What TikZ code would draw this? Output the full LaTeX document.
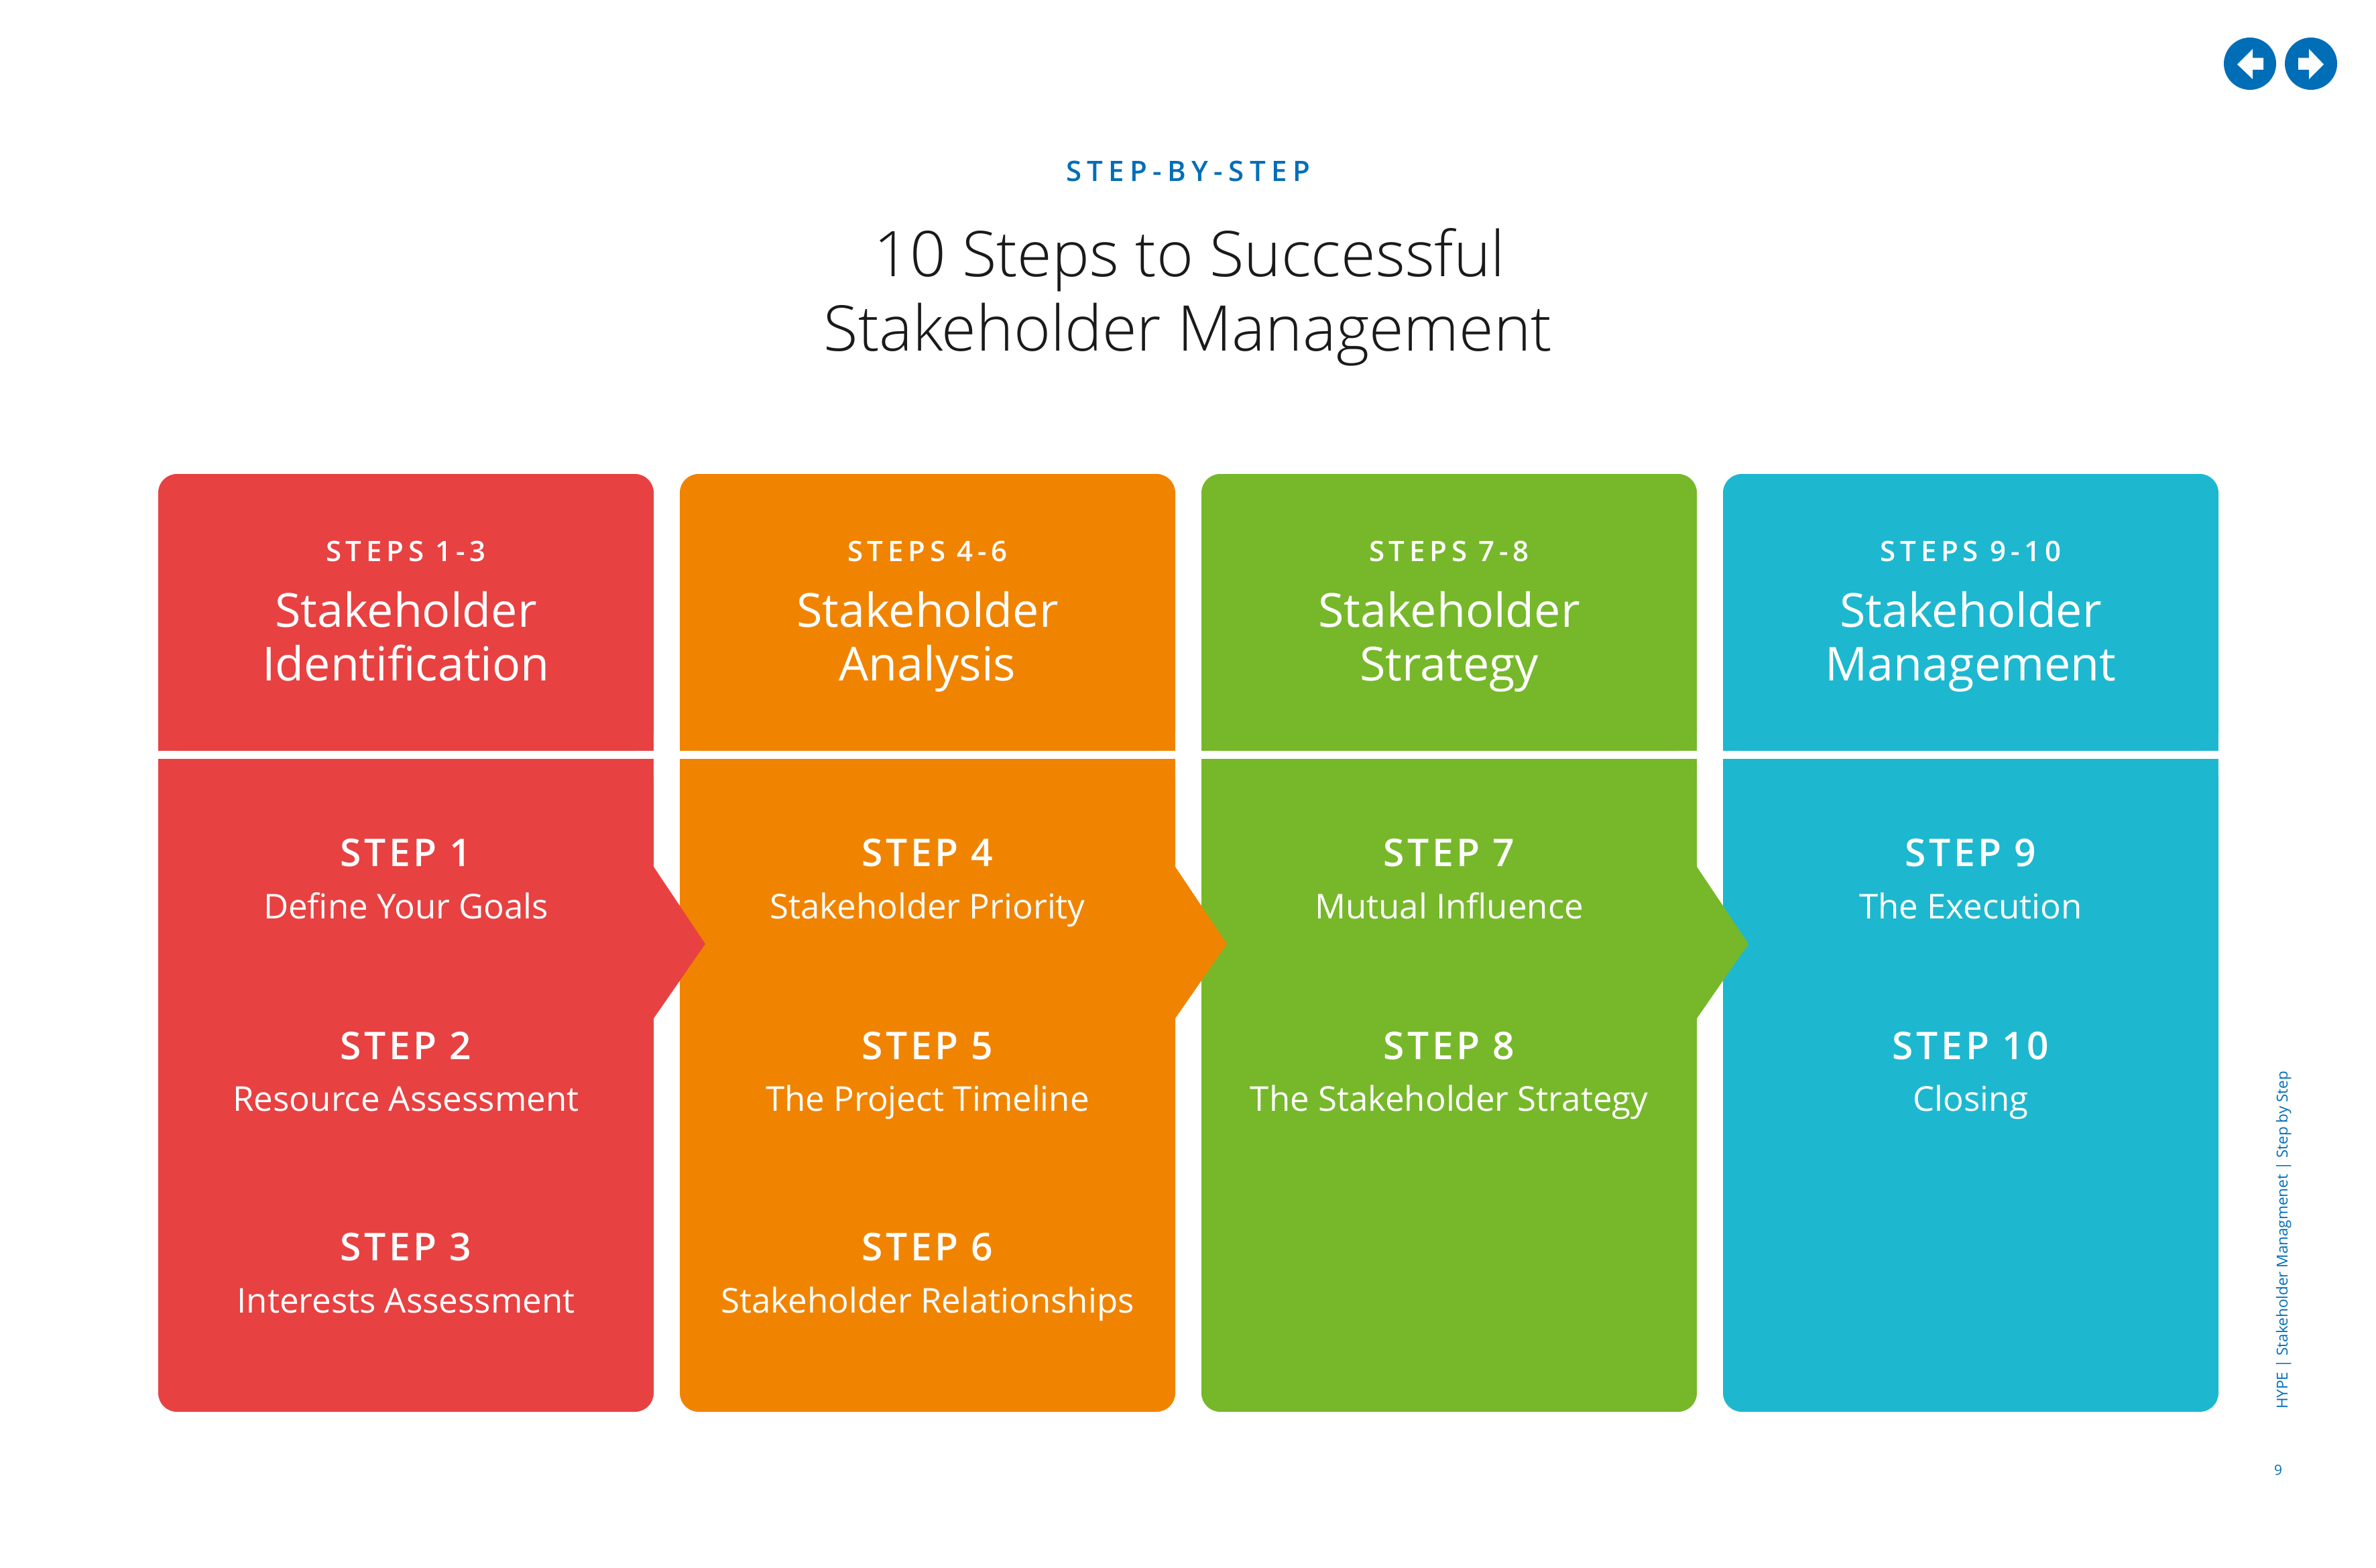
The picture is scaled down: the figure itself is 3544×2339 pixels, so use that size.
\documentclass[tikz,border=0pt]{standalone}
\usepackage{fontspec}
\setmainfont{Open Sans}
\IfFontExistsTF{Open Sans Light}
  {\def\LightName{Open Sans Light}}
  {\def\LightName{Open Sans}}
\IfFontExistsTF{Open Sans Semibold}
  {\def\SemiName{Open Sans Semibold}\def\SemiSel{\mdseries}}
  {\IfFontExistsTF{Open Sans SemiBold}
    {\def\SemiName{Open Sans SemiBold}\def\SemiSel{\mdseries}}
    {\def\SemiName{Open Sans}\def\SemiSel{\bfseries}}}
\newfontfamily\lightfont{\LightName}
\newfontfamily\kickerfont[LetterSpace=20]{\SemiName}
\newfontfamily\rangefont[LetterSpace=16]{\SemiName}
\newfontfamily\stepfont[LetterSpace=8]{\SemiName}
\definecolor{cred}{HTML}{E84142}
\definecolor{corange}{HTML}{F08400}
\definecolor{cgreen}{HTML}{76B82A}
\definecolor{ccyan}{HTML}{1DB8CF}
\definecolor{cblue}{HTML}{006EB7}
\definecolor{ctitle}{HTML}{1A1A1A}
\tikzset{
  txt/.style={inner sep=0pt, anchor=base, text=white},
  kicker/.style={txt, text=cblue, font=\kickerfont\SemiSel\fontsize{42}{50}\selectfont},
  bigtitle/.style={txt, text=ctitle, font=\lightfont\fontsize{94}{110}\selectfont},
  rangetxt/.style={txt, font=\rangefont\SemiSel\fontsize{42}{50}\selectfont},
  headtxt/.style={txt, font=\fontsize{70}{80}\selectfont},
  steptxt/.style={txt, font=\stepfont\SemiSel\fontsize{57}{66}\selectfont},
  desctxt/.style={txt, font=\fontsize{51}{60}\selectfont},
  foottxt/.style={inner sep=0pt, text=cblue, font=\fontsize{22.5}{27}\selectfont},
}
\begin{document}
\begin{tikzpicture}[x=1pt,y=-1pt]
\fill[white] (0,0) rectangle (3544,2339);
\useasboundingbox (0,0) rectangle (3544,2339);

% columns
\foreach \i/\c in {0/cred,1/corange,2/cgreen,3/ccyan} {
  \pgfmathsetmacro\xa{236+778*\i}
  \pgfmathsetmacro\xb{\xa+739}
  \fill[\c, rounded corners=28pt] (\xa,707) rectangle (\xb,1120);
  \fill[\c] (\xa,1060) rectangle (\xb,1120);
  \fill[\c, rounded corners=28pt] (\xa,1132) rectangle (\xb,2106);
  \fill[\c] (\xa,1132) rectangle (\xb,1190);
}
% chevrons
\foreach \i/\c in {0/cred,1/corange,2/cgreen} {
  \pgfmathsetmacro\xb{236+778*\i+739}
  \fill[\c] ({\xb-2},1290) -- ({\xb+77},1408) -- ({\xb-2},1522) -- cycle;
}

% heading
\node[kicker] (kick) at (1772,270) {STEP-BY-STEP};
\node[bigtitle] (title1) at (1774,412) {10 Steps to Successful};
\node[bigtitle] (title2) at (1772,523) {Stakeholder Management};

% column 1
\node[rangetxt] (r1) at (605.5,837) {STEPS 1-3};
\node[headtxt] (h1a) at (605.5,935) {Stakeholder};
\node[headtxt] (h1b) at (605.5,1015) {Identification};
\node[steptxt] (s1) at (605.5,1292) {STEP 1};
\node[desctxt] (d1) at (605.5,1370) {Define Your Goals};
\node[steptxt] (s2) at (605.5,1580) {STEP 2};
\node[desctxt] (d2) at (605.5,1657) {Resource Assessment};
\node[steptxt] (s3) at (605.5,1880) {STEP 3};
\node[desctxt] (d3) at (605.5,1958) {Interests Assessment};

% column 2
\node[rangetxt] (r2) at (1383.5,837) {STEPS 4-6};
\node[headtxt] (h2a) at (1383.5,935) {Stakeholder};
\node[headtxt] (h2b) at (1383.5,1015) {Analysis};
\node[steptxt] (s4) at (1383.5,1292) {STEP 4};
\node[desctxt] (d4) at (1383.5,1370) {Stakeholder Priority};
\node[steptxt] (s5) at (1383.5,1580) {STEP 5};
\node[desctxt] (d5) at (1383.5,1657) {The Project Timeline};
\node[steptxt] (s6) at (1383.5,1880) {STEP 6};
\node[desctxt] (d6) at (1383.5,1958) {Stakeholder Relationships};

% column 3
\node[rangetxt] (r3) at (2161.5,837) {STEPS 7-8};
\node[headtxt] (h3a) at (2161.5,935) {Stakeholder};
\node[headtxt] (h3b) at (2161.5,1015) {Strategy};
\node[steptxt] (s7) at (2161.5,1292) {STEP 7};
\node[desctxt] (d7) at (2161.5,1370) {Mutual Influence};
\node[steptxt] (s8) at (2161.5,1580) {STEP 8};
\node[desctxt] (d8) at (2161.5,1657) {The Stakeholder Strategy};

% column 4
\node[rangetxt] (r4) at (2939.5,837) {STEPS 9-10};
\node[headtxt] (h4a) at (2939.5,935) {Stakeholder};
\node[headtxt] (h4b) at (2939.5,1015) {Management};
\node[steptxt] (s9) at (2939.5,1292) {STEP 9};
\node[desctxt] (d9) at (2939.5,1370) {The Execution};
\node[steptxt] (s10) at (2939.5,1580) {STEP 10};
\node[desctxt] (d10) at (2939.5,1657) {Closing};

% navigation buttons
\fill[cblue] (3356,95) circle[radius=39pt];
\fill[white] (3337,96) -- (3360,73) -- (3360,86.5) -- (3376,86.5) -- (3376,104) -- (3360,104) -- (3360,118) -- cycle;
\fill[cblue] (3447,95) circle[radius=39pt];
\fill[white] (3466,96) -- (3444,73) -- (3444,86.5) -- (3428,86.5) -- (3428,104) -- (3444,104) -- (3444,118) -- cycle;

% footer
\node[foottxt, rotate=90, anchor=base west] (foot) at (3412,2102) {HYPE | Stakeholder Managmenet | Step by Step};
\node[foottxt, anchor=base, font=\fontsize{21}{25}\selectfont] (pnum) at (3398,2200) {9};
\end{tikzpicture}
\end{document}
